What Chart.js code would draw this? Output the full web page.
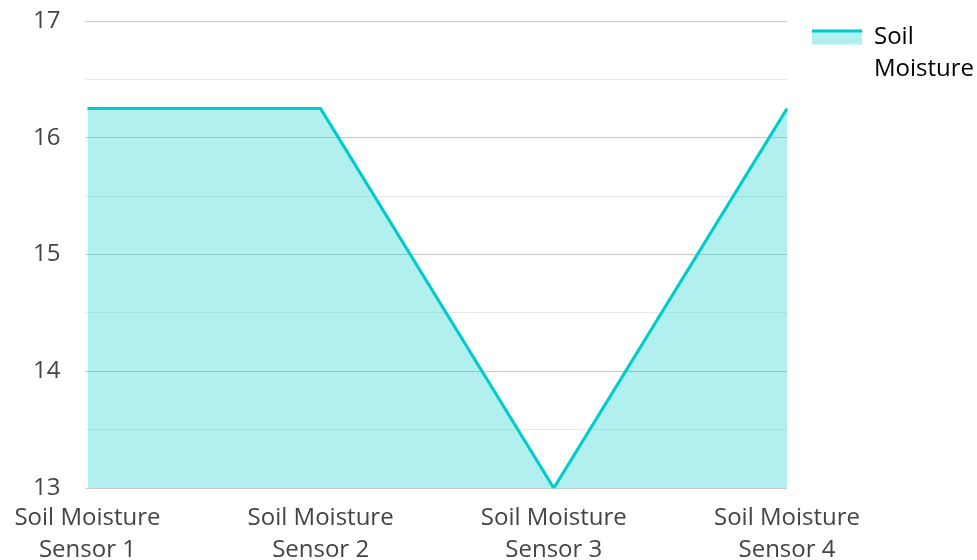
<!DOCTYPE html>
<html>
<head>
<meta charset="utf-8">
<script src="https://cdn.jsdelivr.net/npm/chart.js@4"></script>
<style>
  html, body { margin: 0; padding: 0; background: #fff; }
  #wrap { width: 977px; height: 560px; }
</style>
</head>
<body>
<div id="wrap"><canvas id="moistureChart"></canvas></div>
<script>
const sensorLabels = [
  ['Soil Moisture', 'Sensor 1'],
  ['Soil Moisture', 'Sensor 2'],
  ['Soil Moisture', 'Sensor 3'],
  ['Soil Moisture', 'Sensor 4'],
];
const moistureValues = [16.25, 16.25, 13, 16.25];
const seriesName = ['Soil', 'Moisture'];

const lineColor = 'rgb(0, 204, 204)';
const fillColor = 'rgba(0, 204, 204, 0.3)';
const legendBoxH = 15;
const fontSize = 24;

Chart.defaults.font.family = '"Open Sans", sans-serif';
Chart.defaults.font.size = fontSize;
Chart.defaults.font.lineHeight = 1.33;
Chart.defaults.color = '#444';

// legend swatch: light fill with a teal line along its top edge only
const legendTopLine = {
  id: 'legendTopLine',
  afterDraw(chart) {
    const legend = chart.legend;
    if (!legend || !legend.legendHitBoxes.length) return;
    const hb = legend.legendHitBoxes[0];
    const top = hb.top + Math.max((fontSize - legendBoxH) / 2, 0);
    const c = chart.ctx;
    c.save();
    c.fillStyle = lineColor;
    c.fillRect(hb.left, top, legend.options.labels.boxWidth, 3);
    c.restore();
  },
};

const ctx = document.getElementById('moistureChart').getContext('2d');

new Chart(ctx, {
  type: 'line',
  data: {
    labels: sensorLabels,
    datasets: [
      {
        label: 'Soil Moisture',
        data: moistureValues,
        borderColor: lineColor,
        backgroundColor: fillColor,
        borderWidth: 3,
        fill: true,
        tension: 0,
        pointRadius: 0,
      },
    ],
  },
  plugins: [legendTopLine],
  options: {
    responsive: true,
    maintainAspectRatio: false,
    animation: false,
    layout: { padding: { top: 0, right: 0, bottom: -12, left: 8 } },
    scales: {
      x: {
        offset: false,
        grid: { display: false },
        border: { display: false },
        ticks: { maxRotation: 0, padding: 6 },
      },
      y: {
        min: 13,
        max: 17,
        border: { display: false },
        grid: {
          color: (c) => (Number.isInteger(c.tick.value) ? '#c8c8c8' : '#e8e8e8'),
          tickLength: 2,
        },
        ticks: {
          stepSize: 0.5,
          padding: 25,
          callback: (v) => (Number.isInteger(v) ? v : ''),
        },
        afterFit: (scale) => {
          scale.paddingTop = 21;
        },
      },
    },
    plugins: {
      legend: {
        position: 'right',
        align: 'start',
        maxWidth: 190,
        labels: {
          boxWidth: 50,
          boxHeight: legendBoxH,
          padding: 25,
          color: '#333',
          generateLabels: (chart) => [{
            text: seriesName,
            fillStyle: fillColor,
            strokeStyle: fillColor,
            lineWidth: 0,
            datasetIndex: 0,
          }],
        },
      },
      tooltip: { enabled: false },
    },
  },
});
</script>
</body>
</html>
